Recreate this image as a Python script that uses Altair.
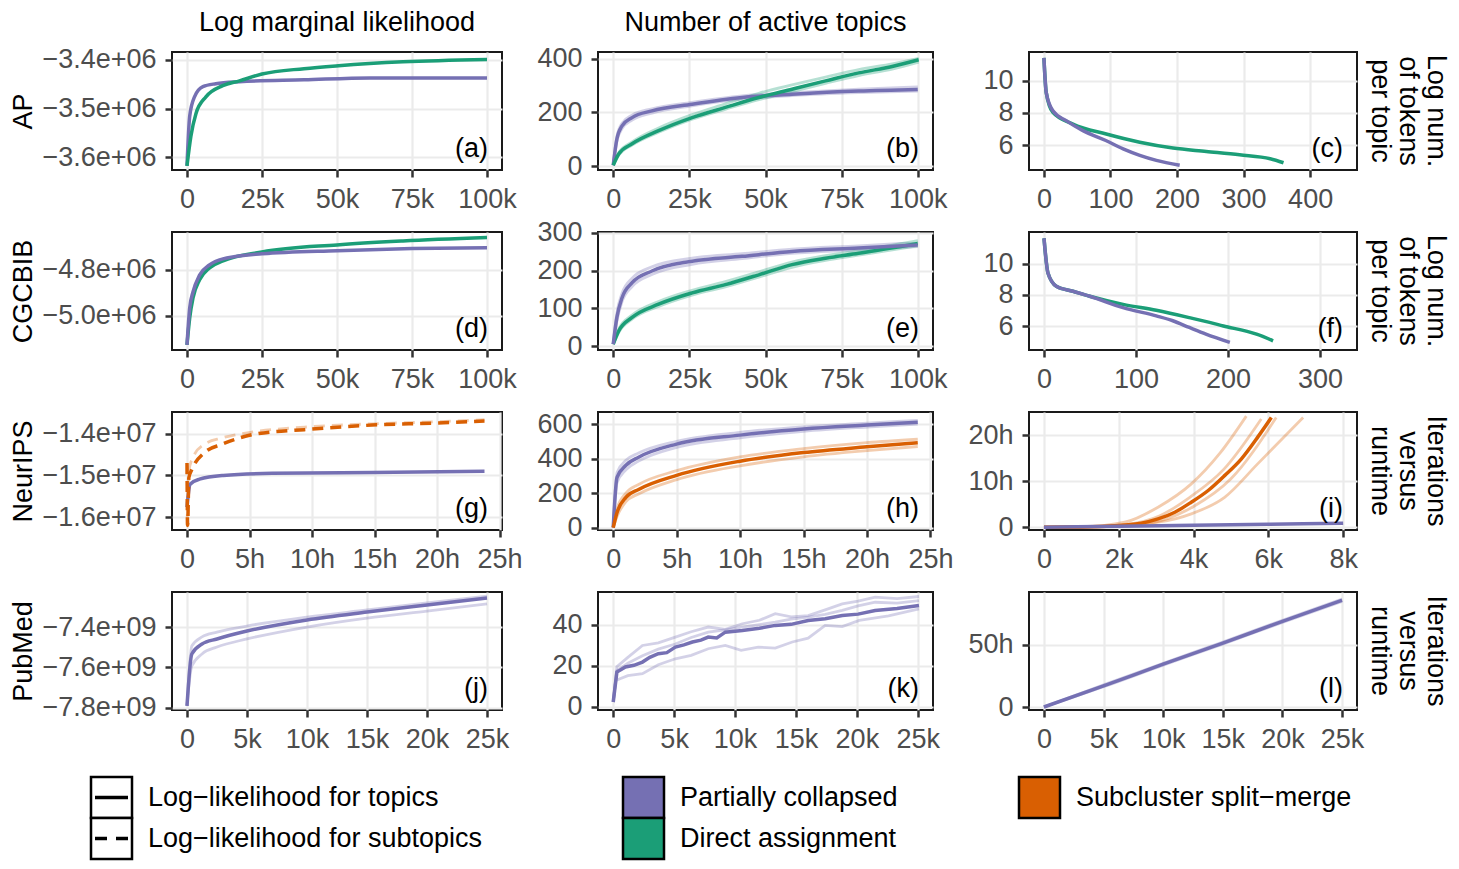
import altair as alt
import pandas as pd

PURPLE = "#7570b3"
GREEN = "#1b9e77"
ORANGE = "#d95f02"
FS = 27
W1, W2, W3 = 330, 335, 328
H = 118
FONT = "Liberation Sans"

# ---------------- data ----------------
# (a) AP log marginal likelihood, x in thousands of iterations, y in 1e6
A_PC_X = [0, 0.9, 2.5, 5.3, 9.6, 17.5, 39, 61, 80, 100]
A_PC_Y = [-3.618, -3.516, -3.476, -3.455, -3.449, -3.445, -3.441, -3.437, -3.437, -3.437]
A_DA_X = [0, 1.3, 3, 6.3, 11.9, 17.5, 25, 39, 50.5, 72, 100]
A_DA_Y = [-3.618, -3.557, -3.510, -3.476, -3.453, -3.443, -3.429, -3.418, -3.412, -3.404, -3.399]

# (b) AP active topics
B_PC_X = [0, 1.2, 2.9, 6.2, 12.7, 25.9, 42.3, 58.7, 80.6, 100]
B_PC_Y = [3, 101, 150, 181, 206, 231, 256, 268, 280, 286]
B_PC_HI = [3, 110, 160, 190, 214, 238, 262, 274, 287, 296]
B_PC_LO = [3, 92, 140, 172, 198, 225, 250, 263, 274, 280]
B_DA_X = [0, 1.8, 6.2, 14.9, 25.9, 36.8, 47.8, 58.7, 69.7, 80.6, 91.6, 100.3]
B_DA_Y = [3, 45, 83, 132, 181, 219, 256, 287, 318, 348, 372, 397]
B_DA_HI = [3, 50, 90, 142, 192, 232, 272, 303, 332, 360, 382, 402]
B_DA_LO = [3, 40, 78, 126, 175, 212, 248, 278, 309, 338, 362, 388]

# (c) AP log num. tokens per topic, x = topic rank
C_PC_X = [0, 3.5, 13.5, 33.5, 58.6, 93, 119, 144, 169, 204]
C_PC_Y = [11.42, 9.26, 8.13, 7.52, 6.9, 6.29, 5.77, 5.37, 5.06, 4.75]
C_DA_X = [0, 3.5, 13.5, 43.6, 93.7, 144, 194, 244, 294, 340, 360]
C_DA_Y = [11.42, 9.26, 8.03, 7.31, 6.69, 6.18, 5.82, 5.61, 5.40, 5.16, 4.91]

# (d) CGCBIB log marginal likelihood
D_PC_X = [0, 0.9, 2, 4.2, 7.5, 12, 25, 50, 75, 100]
D_PC_Y = [-5.126, -4.965, -4.896, -4.822, -4.778, -4.752, -4.730, -4.716, -4.707, -4.703]
D_DA_X = [0, 0.9, 2, 4.2, 7.5, 12, 25, 50, 72, 100]
D_DA_Y = [-5.126, -5.009, -4.922, -4.843, -4.791, -4.761, -4.722, -4.691, -4.674, -4.659]

# (e) CGCBIB active topics
E_PC_X = [0, 1.2, 2.9, 6.2, 12.7, 25.9, 42.3, 58.7, 80.6, 100]
E_PC_Y = [5, 76, 128, 168, 199, 225, 238, 251, 260, 268]
E_PC_HI = [5, 88, 140, 180, 210, 233, 245, 257, 266, 275]
E_PC_LO = [5, 66, 118, 158, 190, 217, 232, 246, 255, 264]
E_DA_X = [0, 1.8, 6.2, 14.9, 25.9, 36.8, 47.8, 58.7, 69.7, 80.6, 100]
E_DA_Y = [5, 40, 76, 111, 141, 163, 189, 216, 233, 246, 272]
E_DA_HI = [5, 45, 82, 118, 148, 171, 197, 223, 240, 253, 280]
E_DA_LO = [5, 36, 71, 105, 135, 157, 183, 209, 227, 241, 266]

# (f) CGCBIB log num. tokens per topic
F_PC_X = [0, 4.3, 13.4, 31.5, 49.7, 85.9, 122, 140, 158, 176, 202]
F_PC_Y = [11.63, 9.41, 8.56, 8.24, 7.92, 7.19, 6.66, 6.35, 5.92, 5.5, 4.97]
F_DA_X = [0, 4.3, 13.4, 31.5, 49.7, 85.9, 122, 158, 195, 231, 249]
F_DA_Y = [11.63, 9.41, 8.56, 8.24, 7.92, 7.4, 7.02, 6.55, 6.02, 5.49, 5.07]

# (g) NeurIPS log marginal likelihood, x in hours, y in 1e7
G_PC_X = [0, 0.25, 1, 2.9, 6.8, 14.8, 23.8]
G_PC_Y = [-1.576, -1.521, -1.509, -1.500, -1.495, -1.493, -1.490]
G_SM_X = [0, 0.05, 0.15, 0.4, 1.4, 2.8, 5.4, 9.4, 14.8, 20, 23.8]
G_SM_Y = [-1.47, -1.62, -1.505, -1.485, -1.445, -1.425, -1.401, -1.390, -1.379, -1.374, -1.369]
G_SM2_X = [0, 0.15, 0.5, 1.4, 2.8, 5.4, 9.4, 14.8, 20, 23.8]
G_SM2_Y = [-1.62, -1.49, -1.455, -1.425, -1.41, -1.395, -1.384, -1.376, -1.371, -1.366]

# (h) NeurIPS active topics
H_X = [0, 0.3, 1, 2, 5, 10, 15, 20, 24]
H_PC_Y = [1, 291, 361, 408, 484, 536, 571, 594, 611]
H_PC_HI = [1, 320, 390, 432, 500, 552, 584, 605, 622]
H_PC_LO = [1, 260, 335, 385, 465, 520, 558, 583, 600]
H_SM_Y = [0, 87, 175, 221, 303, 385, 435, 468, 492]
H_SM_HI = [0, 110, 200, 250, 330, 410, 458, 492, 512]
H_SM_LO = [0, 65, 150, 195, 278, 358, 410, 446, 470]

# (i) NeurIPS iterations (thousands) versus runtime (hours)
I_SM_X = [0, 1, 2, 2.6, 3.05, 3.5, 3.94, 4.39, 4.83, 5.28, 5.72, 6.08]
I_SM_Y = [0, 0.05, 0.36, 0.87, 1.8, 3.26, 5.43, 7.97, 11.2, 14.85, 19.6, 23.8]
I_R1_X = [0, 1, 2.16, 3.05, 3.94, 4.7, 5.41]
I_R1_Y = [0, 0.1, 1.1, 4.35, 9.4, 16, 24.1]
I_R2_X = [0, 1, 2.2, 3.1, 3.9, 4.8, 5.81]
I_R2_Y = [0, 0.05, 0.6, 2.5, 6.5, 12.5, 23.5]
I_R3_X = [0, 1, 2.3, 3.2, 4.0, 5.0, 6.21]
I_R3_Y = [0, 0.05, 0.4, 1.6, 4.5, 10.5, 23.8]
I_R4_X = [0, 1, 3.05, 3.94, 4.83, 5.72, 6.93]
I_R4_Y = [0, 0.05, 1.1, 2.9, 6.5, 13.8, 23.8]
I_PC_X = [0, 2, 4, 6, 8]
I_PC_Y = [0, 0.2, 0.42, 0.63, 0.85]

# (j) PubMed log marginal likelihood, x thousands, y in 1e9
J_X = [0, 0.4, 1.25, 2.5, 5, 10, 15, 20, 25]
J_PC_Y = [-7.79, -7.533, -7.484, -7.459, -7.42, -7.365, -7.326, -7.291, -7.257]
J_PC_LO = [-7.79, -7.593, -7.533, -7.499, -7.459, -7.40, -7.356, -7.321, -7.286]
J_PC_HI = [-7.79, -7.494, -7.449, -7.425, -7.395, -7.351, -7.316, -7.281, -7.247]

# (k) PubMed active topics
K_X = [0, 0.3, 1, 1.7, 2.4, 3.0, 3.7, 4.4, 5.1, 5.8, 6.5, 7.2, 7.8, 8.5, 9.2, 10.6,
       12.0, 13.3, 14.6, 16, 17.4, 18.8, 20.1, 21.5, 23.3, 25.1]
K_PC_Y = [2.3, 16.9, 19.4, 20.2, 21.8, 24.1, 25.9, 26.4, 29.1, 30.2, 31.6, 32.5, 34, 33.6,
          36.4, 37.2, 38.3, 39.7, 40.2, 42.1, 42.9, 44.5, 45.2, 47, 47.9, 49.4]
K_R1_X = [0, 0.2, 1.2, 2.4, 3.7, 5.1, 6.4, 7.8, 9.2, 10.5, 11.9, 13.3, 14.7, 16, 17.4,
          18.8, 20.2, 22.6, 25.1]
K_R1_Y = [2.3, 12.8, 15.2, 16.1, 20.5, 23.4, 25.1, 28.3, 29.9, 27.5, 29.1, 28.6, 31.6, 33.5,
          39.7, 39.1, 42.1, 44.3, 47.8]
K_R2_X = [0, 0.3, 1.2, 2.4, 3.7, 5.1, 6.4, 7.8, 9.2, 10.6, 12.0, 13.3, 14.6, 16, 17.4,
          18.8, 20.1, 21.5, 23.3, 25.1]
K_R2_Y = [2.3, 19.5, 24.1, 29.9, 31.2, 34, 36.6, 38.9, 37.8, 40.5, 42.2, 45.4, 43.9, 44.5,
          47.3, 50.2, 51.6, 53.5, 52.8, 53.8]
K_R3_Y = [2.3, 17.5, 21.2, 24.9, 28.1, 30.6, 33.8, 36.4, 37.5, 38.9, 40.1, 41.3, 42.8, 43.7,
          45.1, 47, 49.2, 51, 50.6, 51.8]

# (l) PubMed iterations versus runtime
L_X = [0, 5, 10, 15, 20, 25]
L_PC_Y = [0, 17, 34.5, 51.5, 69, 86]
L_PC_HI = [0, 17.8, 35.3, 52.4, 69.9, 87]
L_PC_LO = [0, 16.3, 33.7, 50.7, 68.2, 85.2]

COL_TITLES = ["Log marginal likelihood", "Number of active topics"]
ROW_LABELS = ["AP", "CGCBIB", "NeurIPS", "PubMed"]
STRIP_TOKENS = ["Log num.", "of tokens", "per topic"]
STRIP_RUNTIME = ["Iterations", "versus", "runtime"]
LETTERS = ["(a)", "(b)", "(c)", "(d)", "(e)", "(f)", "(g)", "(h)", "(i)", "(j)", "(k)", "(l)"]
LEG_LINE = ["Log\u2212likelihood for topics", "Log\u2212likelihood for subtopics"]
LEG_FILL = ["Partially collapsed", "Direct assignment"]
LEG_FILL2 = ["Subcluster split\u2212merge"]

K_EXPR = "datum.value == 0 ? '0' : datum.value + 'k'"
H_EXPR = "datum.value == 0 ? '0' : datum.value + 'h'"


def e_expr(exp):
    return "'\u2212' + format(abs(datum.value), '.1f') + 'e+" + exp + "'"


def ln(xs, ys, color, faint=False, dashed=False):
    return dict(x=xs, y=ys, color=color, faint=faint, dashed=dashed)


def panel(lines, xdom, ydom, xvals, yvals, xexpr, yexpr, letter, width,
          title=None, strip=None, rowlab=None, interp="monotone"):
    xkw = dict(values=xvals, title=None, grid=True)
    if xexpr:
        xkw["labelExpr"] = xexpr
    ykw = dict(values=yvals, grid=True)
    if yexpr:
        ykw["labelExpr"] = yexpr
    if rowlab:
        ykw.update(title=rowlab, titleX=-141, titleY=H / 2, titleAngle=270,
                   titleAlign="center", titleBaseline="alphabetic",
                   titleFontSize=FS, titleFontWeight="normal", titleColor="black")
    else:
        ykw["title"] = None
    xenc = alt.X("x:Q", scale=alt.Scale(domain=xdom, nice=False, zero=False),
                 axis=alt.Axis(**xkw))
    yenc = alt.Y("y:Q", scale=alt.Scale(domain=ydom, nice=False, zero=False),
                 axis=alt.Axis(**ykw))
    layers = []
    for L in sorted(lines, key=lambda d: not d["faint"]):
        df = pd.DataFrame({"x": L["x"], "y": L["y"]})
        kw = dict(color=L["color"], strokeWidth=2.8 if L["faint"] else 3.5,
                  opacity=0.32 if L["faint"] else 1.0, interpolate=interp,
                  strokeCap="butt")
        if L["dashed"]:
            kw["strokeDash"] = [11, 7]
        layers.append(alt.Chart(df).mark_line(**kw).encode(x=xenc, y=yenc))
    layers.append(
        alt.Chart(pd.DataFrame({"t": [letter]}))
        .mark_text(align="right", baseline="alphabetic", fontSize=FS, color="black")
        .encode(x=alt.value(width - 14), y=alt.value(H - 13), text="t:N")
    )
    if title:
        layers.append(
            alt.Chart(pd.DataFrame({"t": [title]}))
            .mark_text(align="center", baseline="alphabetic", fontSize=FS, color="black")
            .encode(x=alt.value(width / 2), y=alt.value(-21), text="t:N")
        )
    if strip:
        layers.append(
            alt.Chart(pd.DataFrame({"t": ["\n".join(strip)]}))
            .mark_text(align="center", baseline="middle", fontSize=FS, color="black",
                       angle=90, lineBreak="\n", lineHeight=28)
            .encode(x=alt.value(width + 79), y=alt.value(H / 2), text="t:N")
        )
    return alt.layer(*layers).properties(width=width, height=H)


KD = [-5, 105]
HD = [-1.2, 25.2]
PD = [-1.25, 26.25]
K5 = [0, 25, 50, 75, 100]
KP = [0, 5, 10, 15, 20, 25]

pa = panel([ln(A_PC_X, A_PC_Y, PURPLE), ln(A_DA_X, A_DA_Y, GREEN)],
           KD, [-3.6265, -3.3837], K5, [-3.6, -3.5, -3.4], K_EXPR, e_expr("06"),
           LETTERS[0], W1, title=COL_TITLES[0], rowlab=ROW_LABELS[0])
pb = panel([ln(B_PC_X, B_PC_HI, PURPLE, True), ln(B_PC_X, B_PC_LO, PURPLE, True),
            ln(B_DA_X, B_DA_HI, GREEN, True), ln(B_DA_X, B_DA_LO, GREEN, True),
            ln(B_PC_X, B_PC_Y, PURPLE), ln(B_DA_X, B_DA_Y, GREEN)],
           KD, [-14.8, 426], K5, [0, 200, 400], K_EXPR, None,
           LETTERS[1], W2, title=COL_TITLES[1])
pc = panel([ln(C_DA_X, C_DA_Y, GREEN), ln(C_PC_X, C_PC_Y, PURPLE)],
           [-22.4, 470.4], [4.46, 11.78], [0, 100, 200, 300, 400], [6, 8, 10], None, None,
           LETTERS[2], W3, strip=STRIP_TOKENS)

pd_ = panel([ln(D_DA_X, D_DA_Y, GREEN), ln(D_PC_X, D_PC_Y, PURPLE)],
            KD, [-5.148, -4.635], K5, [-5.0, -4.8], K_EXPR, e_expr("06"),
            LETTERS[3], W1, rowlab=ROW_LABELS[1])
pe = panel([ln(E_PC_X, E_PC_HI, PURPLE, True), ln(E_PC_X, E_PC_LO, PURPLE, True),
            ln(E_DA_X, E_DA_HI, GREEN, True), ln(E_DA_X, E_DA_LO, GREEN, True),
            ln(E_DA_X, E_DA_Y, GREEN), ln(E_PC_X, E_PC_Y, PURPLE)],
           KD, [-10.5, 302.6], K5, [0, 100, 200, 300], K_EXPR, None,
           LETTERS[4], W2)
pf = panel([ln(F_DA_X, F_DA_Y, GREEN), ln(F_PC_X, F_PC_Y, PURPLE)],
           [-16.3, 340.2], [4.48, 12.03], [0, 100, 200, 300], [6, 8, 10], None, None,
           LETTERS[5], W3, strip=STRIP_TOKENS)

pg = panel([ln(G_SM2_X, G_SM2_Y, ORANGE, True, True), ln(G_PC_X, G_PC_Y, PURPLE),
            ln(G_SM_X, G_SM_Y, ORANGE, False, True)],
           HD, [-1.631, -1.3476], KP, [-1.6, -1.5, -1.4], H_EXPR, e_expr("07"),
           LETTERS[6], W1, rowlab=ROW_LABELS[2])
ph = panel([ln(H_X, H_PC_HI, PURPLE, True), ln(H_X, H_PC_LO, PURPLE, True),
            ln(H_X, H_SM_HI, ORANGE, True), ln(H_X, H_SM_LO, ORANGE, True),
            ln(H_X, H_PC_Y, PURPLE), ln(H_X, H_SM_Y, ORANGE)],
           HD, [-14, 670], KP, [0, 200, 400, 600], H_EXPR, None,
           LETTERS[7], W2)
pi = panel([ln(I_R1_X, I_R1_Y, ORANGE, True), ln(I_R2_X, I_R2_Y, ORANGE, True),
            ln(I_R3_X, I_R3_Y, ORANGE, True), ln(I_R4_X, I_R4_Y, ORANGE, True),
            ln(I_SM_X, I_SM_Y, ORANGE), ln(I_PC_X, I_PC_Y, PURPLE)],
           [-0.4, 8.37], [-0.6, 25.0], [0, 2, 4, 6, 8], [0, 10, 20], K_EXPR, H_EXPR,
           LETTERS[8], W3, strip=STRIP_RUNTIME)

pj = panel([ln(J_X, J_PC_LO, PURPLE, True), ln(J_X, J_PC_HI, PURPLE, True),
            ln(J_X, J_PC_Y, PURPLE)],
           PD, [-7.81, -7.227], KP, [-7.8, -7.6, -7.4], K_EXPR, e_expr("09"),
           LETTERS[9], W1, rowlab=ROW_LABELS[3])
pk = panel([ln(K_R1_X, K_R1_Y, PURPLE, True), ln(K_R2_X, K_R2_Y, PURPLE, True),
            ln(K_R2_X, K_R3_Y, PURPLE, True), ln(K_X, K_PC_Y, PURPLE)],
           PD, [-1.6, 56], KP, [0, 20, 40], K_EXPR, None,
           LETTERS[10], W2, interp="linear")
pl = panel([ln(L_X, L_PC_HI, PURPLE, True), ln(L_X, L_PC_LO, PURPLE, True),
            ln(L_X, L_PC_Y, PURPLE)],
           PD, [-2.4, 92.7], KP, [0, 50], K_EXPR, H_EXPR,
           LETTERS[11], W3, strip=STRIP_RUNTIME)


# ---------------- legend panels ----------------
KEY = 41
KY = [5, 5 + KEY]


def leg_key(label, x0, y0, fill, tx, line=None):
    d = pd.DataFrame({"label": [label]})
    out = [alt.Chart(d).mark_rect(fill=fill, stroke="black", strokeWidth=2.5).encode(
        x=alt.value(x0), x2=alt.value(x0 + KEY), y=alt.value(y0), y2=alt.value(y0 + KEY))]
    if line is not None:
        kw = dict(color="black", strokeWidth=3.5)
        if line == "dashed":
            kw["strokeDash"] = [12, 9]
        out.append(alt.Chart(d).mark_rule(**kw).encode(
            x=alt.value(x0 + 4), x2=alt.value(x0 + KEY - 4), y=alt.value(y0 + KEY / 2)))
    out.append(alt.Chart(d).mark_text(align="left", baseline="middle", fontSize=FS,
                                      color="black").encode(
        x=alt.value(tx), y=alt.value(y0 + KEY / 2), text="label:N"))
    return out


def legend_panel(width, layers):
    return alt.layer(*layers).properties(width=width, height=88,
                                         view=alt.ViewBackground(strokeOpacity=0))


lg1 = legend_panel(W1, leg_key(LEG_LINE[0], -81, KY[0], "white", -24, "solid")
                   + leg_key(LEG_LINE[1], -81, KY[1], "white", -24, "dashed"))
lg2 = legend_panel(W2, leg_key(LEG_FILL[0], 25, KY[0], PURPLE, 82)
                   + leg_key(LEG_FILL[1], 25, KY[1], GREEN, 82))
lg3 = legend_panel(W3, leg_key(LEG_FILL2[0], -10, KY[0], ORANGE, 47))

chart = alt.concat(pa, pb, pc, pd_, pe, pf, pg, ph, pi, pj, pk, pl, lg1, lg2, lg3,
                   columns=3, spacing={"row": 62, "column": 96}, bounds="flush",
                   padding=0)
chart = (chart.configure(font=FONT)
         .configure_view(stroke="#1a1a1a", strokeWidth=2)
         .configure_axis(labelFontSize=FS, labelColor="#4d4d4d", labelFont=FONT,
                         tickColor="#333333", tickWidth=2.5, tickSize=7, labelPadding=9,
                         gridColor="#ebebeb", gridWidth=2.2, domain=False,
                         labelOverlap=False, labelFlush=False))

chart.save("out.html", embed_options={"renderer": "svg", "actions": False})
